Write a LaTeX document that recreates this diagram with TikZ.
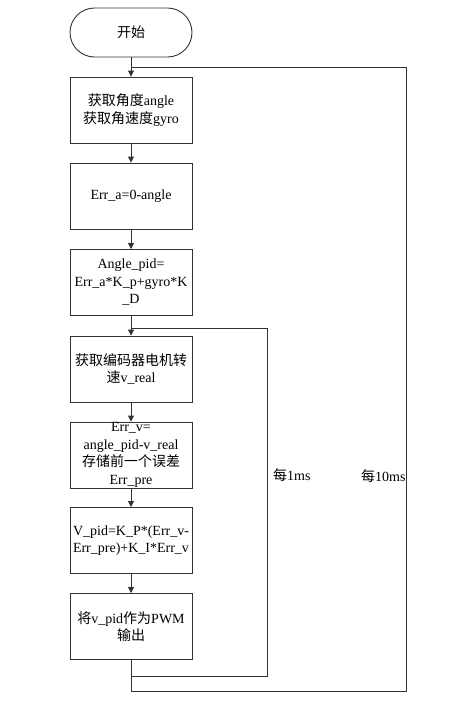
\documentclass[tikz,border=0pt]{standalone}
\usepackage{fontspec}
\setmainfont{Liberation Serif}
\newfontfamily\cjk{Noto Sans CJK SC}
\newcommand{\zh}[1]{{\cjk #1}}
\usetikzlibrary{arrows.meta}
\begin{document}
\begin{tikzpicture}[x=1pt,y=-1pt,
  every node/.style={font=\fontsize{14}{17.5}\selectfont},
  procbox/.style={draw=black!80, line width=0.9pt, minimum width=122pt, minimum height=66pt, text width=120pt, align=center, inner sep=0pt},
  termbox/.style={draw=black!80, line width=0.9pt, minimum width=122pt, minimum height=49pt, rounded corners=24.5pt, align=center},
  flow/.style={draw=black!80, line width=0.9pt, -{Triangle[length=6pt,width=6pt]}},
  loopline/.style={draw=black!80, line width=0.9pt}]
\useasboundingbox (0,0) rectangle (462,702);
\node[termbox] (start) at (131,32.5) {\zh{开始}};
\node[procbox] (b1) at (131,110) {\zh{获取角度}angle\\\zh{获取角速度}gyro};
\node[procbox] (b2) at (131,196) {Err\_a=0-angle};
\node[procbox] (b3) at (131,282.5) {Angle\_pid=\\Err\_a*K\_p+gyro*K\\\_D};
\node[procbox] (b4) at (131,369) {\zh{获取编码器电机转}\\\zh{速}v\_real};
\node[procbox] (b5) at (131,455) {Err\_v=\\angle\_pid-v\_real\\\zh{存储前一个误差}\\Err\_pre};
\node[procbox] (b6) at (131,540.5) {V\_pid=K\_P*(Err\_v-\\Err\_pre)+K\_I*Err\_v};
\node[procbox] (b7) at (131,626.5) {\zh{将}v\_pid\zh{作为}PWM\\\zh{输出}};
\coordinate (j10) at (131,67);
\coordinate (j1) at (131,328);
\coordinate (r10t) at (406,67);
\coordinate (r10b) at (406,691);
\coordinate (r1t) at (267,328);
\coordinate (r1b) at (267,676);
\coordinate (l1b) at (131,676);
\coordinate (l10b) at (131,691);
\draw[flow] (start) -- (b1);
\draw[flow] (b1) -- (b2);
\draw[flow] (b2) -- (b3);
\draw[flow] (b3) -- (b4);
\draw[flow] (b4) -- (b5);
\draw[flow] (b5) -- (b6);
\draw[flow] (b6) -- (b7);
\draw[loopline] (b7.south) -- (l10b) -- (r10b) -- (r10t) -- (j10);
\draw[loopline] (l1b) -- (r1b) -- (r1t) -- (j1);
\node[anchor=west, inner sep=0pt] (lab1) at (273,475) {\zh{每}1ms};
\node[anchor=west, inner sep=0pt] (lab10) at (361,476) {\zh{每}10ms};
\end{tikzpicture}
\end{document}
